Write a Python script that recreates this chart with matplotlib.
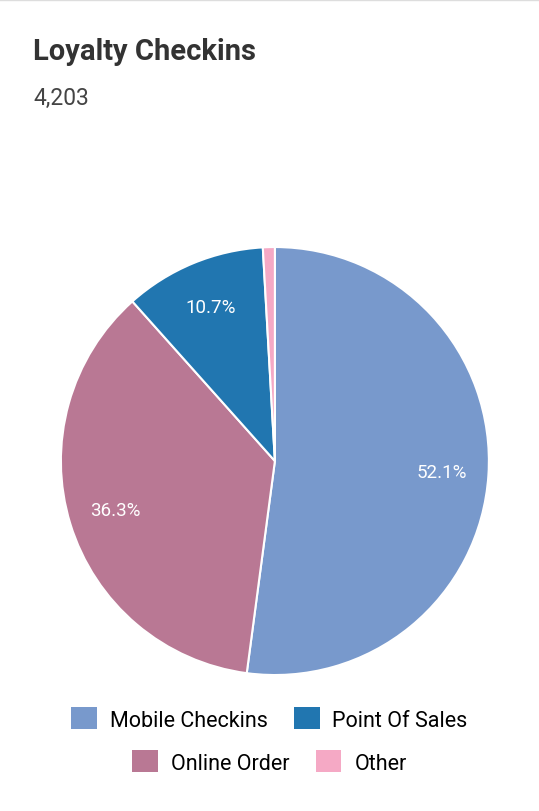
import matplotlib.pyplot as plt
from matplotlib.patches import Patch

labels = ["Mobile Checkins", "Online Order", "Point Of Sales", "Other"]
values = [52.1, 36.3, 10.7, 0.9]
colors = ["#7899cc", "#b97894", "#2176b0", "#f5a9c5"]
title = "Loyalty Checkins"
total = "4,203"

plt.rcParams['font.family'] = ['Roboto', 'DejaVu Sans']
fig = plt.figure(figsize=(5.39, 8.12), dpi=100)

fig.text(33/539, 1-52/812, title, fontsize=21, fontweight='bold', color='#333333', va='center')
fig.text(33/539, 1-98/812, total, fontsize=16.5, color='#444444', va='center')
fig.add_artist(plt.Line2D([0, 1], [0.999, 0.999], color='#dddddd', lw=1))

ax = fig.add_axes([0.510-0.399, 0.431-0.265, 0.798, 0.530])
wedges, _, autotexts = ax.pie(values, colors=colors, startangle=90, counterclock=False,
                              autopct=lambda p: f"{p:.1f}%" if p > 5 else "",
                              pctdistance=0.78,
                              wedgeprops=dict(edgecolor='white', linewidth=1.5))
for t in autotexts:
    t.set_color('white')
    t.set_fontsize(13.5)
ax.set_xlim(-1.005, 1.005)
ax.set_ylim(-1.005, 1.005)
ax.set_aspect('equal')

rows = [[0, 2], [1, 3]]
ys = [1-720/812, 1-763/812]
for r, y in zip(rows, ys):
    handles = [Patch(facecolor=colors[i], label=labels[i]) for i in r]
    fig.legend(handles=handles, loc='center', bbox_to_anchor=(0.5, y), ncol=2,
               frameon=False, fontsize=15.5, handlelength=1.2, handleheight=1.2,
               columnspacing=1.2, handletextpad=0.6)

fig.savefig("out.png", dpi=100)
